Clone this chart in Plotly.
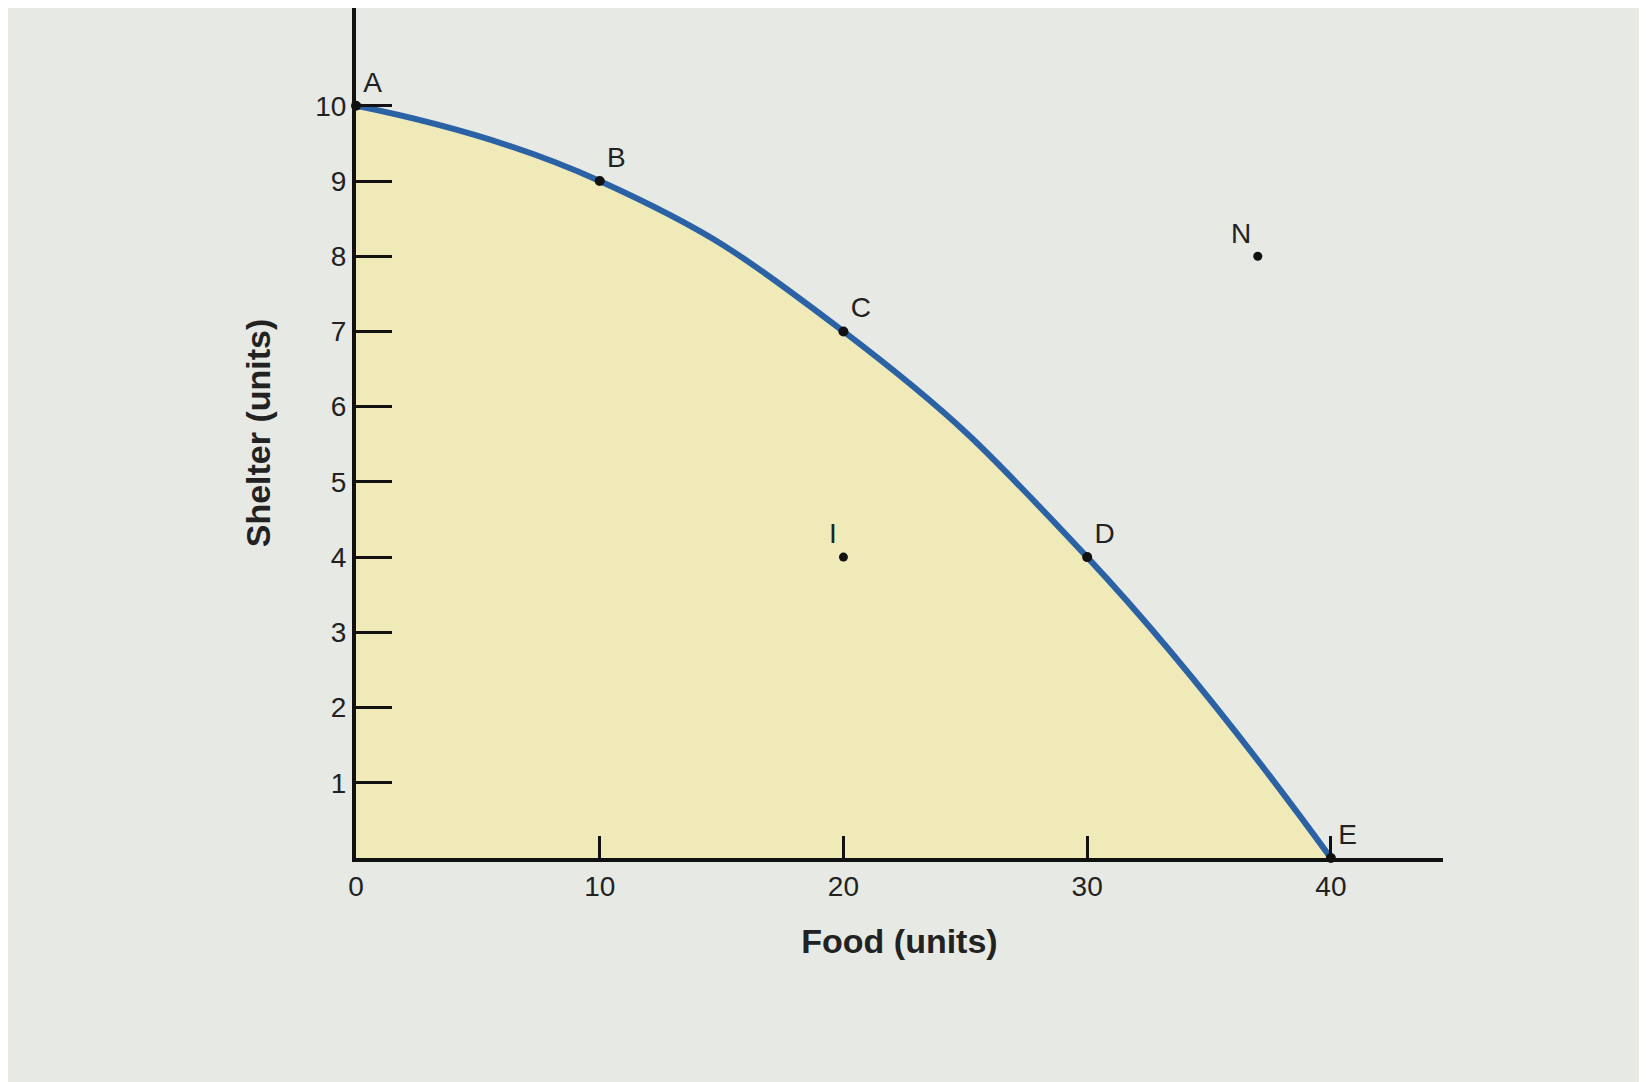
import plotly.graph_objects as go

# Points on the production possibilities frontier
ppf_labels = ["A", "B", "C", "D", "E"]
ppf_food = [0, 10, 20, 30, 40]
ppf_shelter = [10, 9, 7, 4, 0]

# Points off the frontier
other_labels = ["I", "N"]
other_food = [20, 37]
other_shelter = [4, 8]

fig = go.Figure()

fig.add_trace(go.Scatter(
    x=ppf_food, y=ppf_shelter, mode="lines+markers+text",
    line=dict(color="#2b62a6", width=6, shape="spline", smoothing=1.3),
    fill="tozeroy", fillcolor="#efeab8",
    marker=dict(color="#111111", size=10),
    text=ppf_labels, textposition="top right",
    textfont=dict(family="Liberation Sans", size=28, color="#222222"),
    cliponaxis=False, showlegend=False,
))

fig.add_trace(go.Scatter(
    x=other_food, y=other_shelter, mode="markers+text",
    marker=dict(color="#111111", size=9),
    text=other_labels, textposition="top left",
    textfont=dict(family="Liberation Sans", size=28, color="#222222"),
    cliponaxis=False, showlegend=False,
))

fig.update_layout(
    width=1647, height=1082,
    margin=dict(l=348, r=212, t=0, b=232),
    paper_bgcolor="#e6e9e4", plot_bgcolor="#e6e9e4",
    font=dict(family="Liberation Sans", size=28, color="#222222"),
)
fig.update_xaxes(
    range=[0, 44.6], tickvals=[0, 10, 20, 30, 40],
    ticks="inside", ticklen=22, tickwidth=3, tickcolor="#111111",
    showline=True, linecolor="#111111", linewidth=4, showgrid=False, zeroline=False,
    title=dict(text="<b>Food (units)</b>", standoff=30),
)
fig.update_yaxes(
    range=[0, 11.3], tickvals=list(range(0, 11)),
    ticktext=[""] + [str(v) for v in range(1, 11)],
    ticks="inside", ticklen=36, tickwidth=3, tickcolor="#111111",
    showline=True, linecolor="#111111", linewidth=4, showgrid=False, zeroline=False,
    title=dict(text="<b>Shelter (units)</b>", standoff=35),
)

fig.write_html("out.html")
